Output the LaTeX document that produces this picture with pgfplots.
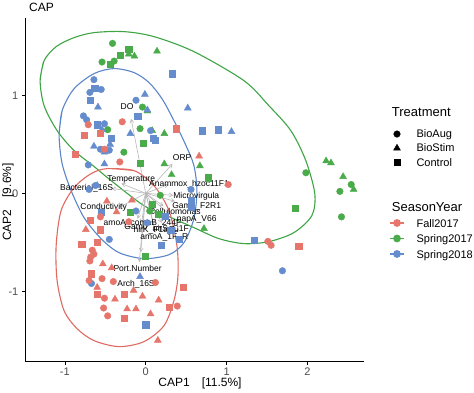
\documentclass[border=0pt]{standalone}
\usepackage{fontspec}
\setmainfont{Liberation Sans}
\usepackage{pgfplots}
\pgfplotsset{compat=1.18}
\usetikzlibrary{arrows.meta}
\definecolor{redpt}{HTML}{E6766C}
\definecolor{greenpt}{HTML}{4AAB4A}
\definecolor{bluept}{HTML}{658CCD}
\definecolor{redel}{HTML}{E06A60}
\definecolor{greenel}{HTML}{3EA444}
\definecolor{blueel}{HTML}{5B86C8}
\definecolor{tickgray}{HTML}{4D4D4D}
\newcommand\lsa{\rule[-3.5pt]{0pt}{12.2pt}}
\newcommand\lsb{\rule[-3.5pt]{0pt}{13.5pt}}
\begin{document}
\begin{tikzpicture}[x=1pt,y=1pt]
\useasboundingbox (0,0) rectangle (474,392);
\begin{axis}[
  scale only axis, width=339.3pt, height=344pt,
  at={(30.7,31)}, anchor=south west,
  xmin=-1.494, xmax=2.70, ymin=-1.717, ymax=1.793,
  axis lines*=left,
  axis line style={black, line width=0.6pt},
  xtick={-1,0,1,2}, ytick={-1,0,1},
  tick align=outside, major tick length=3pt,
  tick style={black, line width=0.5pt},
  ticklabel style={font=\fontsize{11}{13}\selectfont, text=tickgray},
  /pgf/number format/assume math mode=true,
  legend style={at={(1.074,0.677)}, anchor=north west, draw=none, fill=none,
    inner sep=0pt, row sep=4pt, column sep=12pt, font=\fontsize{11}{13}\selectfont,
    nodes={inner sep=0pt}},
  legend cell align=left,
  legend image code/.code={\draw[mark repeat=2, mark phase=2, #1] plot coordinates {(0pt,0pt) (7pt,0pt) (14pt,0pt)};},
]
% ---- Spring2017 (green)
\addplot[forget plot, only marks, mark=*, mark size=3.3pt, color=greenpt] coordinates {
(-0.41,1.53) (-0.54,1.34) (-0.39,1.35) (-0.04,0.88) (-0.07,0.66) (-0.27,0.42) (-0.47,0.65)
(1.98,0.21) (2.54,0.09) (2.40,0.02) (2.42,-0.24) (0.18,-0.02) (0.05,-0.18)};
\addplot[forget plot, only marks, mark=triangle*, mark size=4pt, color=greenpt] coordinates {
(-0.21,1.42) (-0.14,1.40) (0.14,1.45) (0.02,0.84) (0.08,0.64) (0.23,0.61) (0.23,0.30)
(0.32,0.19) (0.67,0.28) (0.72,-0.36) (2.23,0.33) (2.29,0.31) (2.44,0.17) (2.57,0.04)};
\addplot[forget plot, only marks, mark=square*, mark size=3.1pt, color=greenpt] coordinates {
(-0.44,1.32) (-0.32,1.41) (-0.21,1.47) (-0.03,0.51) (-0.07,0.31) (0.77,0.16) (1.85,-0.15)
(-0.19,-0.19) (-0.01,-0.64) (0.08,-0.11) (0.16,-0.21)};
% ---- Spring2018 (blue)
\addplot[forget plot, only marks, mark=*, mark size=3.3pt, color=bluept] coordinates {
(-0.64,1.16) (-0.69,1.03) (-0.55,1.06) (-0.12,0.95) (-0.77,0.79) (-0.73,0.75) (-0.51,0.71)
(-0.56,0.45) (0.06,0.64) (-0.71,0.29) (-0.62,0.08) (-0.70,0.04) (-0.45,-0.47) (-0.67,-0.92)
(1.69,-0.79) (0.56,0.04) (-0.12,-0.18) (0.02,-0.30) (-0.45,0.44)};
\addplot[forget plot, only marks, mark=triangle*, mark size=4pt, color=bluept] coordinates {
(-0.59,0.88) (-0.01,1.01) (-0.54,0.65) (-0.64,0.48) (-0.44,0.50) (-0.19,0.61) (-0.51,0.30)
(0.02,0.85) (0.52,0.87) (1.06,0.63) (-0.60,0.08) (-0.07,-0.85) (-0.51,0.42)};
\addplot[forget plot, only marks, mark=square*, mark size=3.1pt, color=bluept] coordinates {
(-0.63,1.07) (-0.69,0.95) (-0.60,0.70) (-0.10,0.79) (-0.43,0.56) (0.09,0.56) (0.12,0.54)
(0.33,1.22) (0.70,0.64) (0.90,0.65) (-0.55,-0.19) (0.00,-1.34) (0.19,-0.53) (0.41,-0.47)
(0.56,-0.07) (1.34,-0.48) (0.24,-0.23) (0.31,-0.38) (0.56,-0.14)};
% ---- Fall2017 (red)
\addplot[forget plot, only marks, mark=*, mark size=3.3pt, color=redpt] coordinates {
(-0.29,0.73) (-0.71,0.70) (-0.51,0.45) (-0.32,0.32) (-0.56,-0.24) (-0.66,-0.58) (-0.64,-0.62)
(-0.68,-0.65) (-0.69,-0.69) (-0.54,-0.87) (-0.40,-0.90) (-0.70,-0.89) (-0.51,-1.07) (-0.52,-1.17)
(-0.47,-1.25) (0.12,-0.91) (0.39,-1.15) (1.02,0.09) (1.51,-0.49) (1.55,-0.53) (-0.21,-0.29)};
\addplot[forget plot, only marks, mark=triangle*, mark size=4pt, color=redpt] coordinates {
(-0.48,-0.08) (-0.17,-0.07) (-0.36,-0.19) (-0.74,-0.37) (-0.53,-0.72) (-0.42,-0.76) (-0.60,-0.96)
(-0.38,-1.08) (-0.15,-0.99) (-0.04,-1.05) (-0.23,-1.18) (-0.12,-1.18) (0.06,-1.23) (0.16,-1.09)
(0.15,-1.50) (0.66,0.38)};
\addplot[forget plot, only marks, mark=square*, mark size=3.1pt, color=redpt] coordinates {
(-0.76,0.59) (-0.56,0.61) (-0.87,0.40) (-0.69,-0.27) (-0.56,-0.37) (-0.79,-0.52) (-0.60,-0.50)
(-0.67,-0.82) (-0.60,-1.03) (-0.27,-1.03) (-0.27,-1.27) (0.29,-1.16) (0.46,-0.96) (0.38,0.66)
(1.89,-0.54)};
% ---- ellipses
\addplot[forget plot, smooth, no marks, color=greenel, line width=1.1pt] coordinates {
(-1.305,1.150) (-1.256,1.354) (-1.107,1.497) (-0.885,1.589) (-0.638,1.640) (-0.268,1.650)
(0.102,1.599) (0.596,1.446) (1.214,1.150) (1.522,0.895) (1.794,0.640) (1.979,0.334)
(2.090,-0.003) (2.053,-0.228) (1.831,-0.401) (1.522,-0.493) (1.214,-0.513) (0.905,-0.462)
(0.596,-0.350) (0.288,-0.238) (-0.021,-0.126) (-0.428,0.130) (-0.638,0.274) (-0.885,0.436)
(-1.095,0.640) (-1.256,0.895) (-1.305,1.150) (-1.256,1.354)};
\addplot[forget plot, smooth, no marks, color=blueel, line width=1.1pt] coordinates {
(-1.070,0.589) (-1.033,0.844) (-0.885,1.068) (-0.638,1.222) (-0.391,1.273) (-0.144,1.232)
(0.041,1.130) (0.201,0.966) (0.349,0.742) (0.498,0.487) (0.596,0.283) (0.633,0.028)
(0.596,-0.258) (0.473,-0.503) (0.288,-0.626) (-0.021,-0.666) (-0.330,-0.605) (-0.552,-0.462)
(-0.762,-0.248) (-0.922,0.028) (-1.033,0.303) (-1.070,0.589) (-1.033,0.844)};
\addplot[forget plot, smooth, no marks, color=redel, line width=1.1pt] coordinates {
(-0.478,0.252) (-0.144,0.232) (0.102,0.079) (0.288,-0.177) (0.386,-0.534) (0.399,-0.840)
(0.349,-1.095) (0.226,-1.350) (-0.021,-1.513) (-0.330,-1.564) (-0.638,-1.503) (-0.848,-1.381)
(-1.009,-1.197) (-1.095,-0.891) (-1.107,-0.534) (-1.046,-0.177) (-0.885,0.058) (-0.675,0.201)
(-0.478,0.252) (-0.144,0.232)};
% ---- biplot arrows
\addplot[forget plot, color=black!28, line width=0.6pt, -{Straight Barb[length=3.5pt,width=4pt]},
  quiver={u=\thisrow{u}, v=\thisrow{v}}] table {
x y u v
0 0 -0.18 0.76
0 0 0.33 0.30
0 0 -0.30 0.10
0 0 -0.42 0.05
0 0 -0.32 -0.14
0 0 0.28 0.09
0 0 0.34 -0.02
0 0 0.36 -0.08
0 0 0.22 -0.13
0 0 0.30 -0.22
0 0 0.10 -0.32
0 0 0.20 -0.30
0 0 0.12 -0.40
0 0 -0.10 -0.26
0 0 -0.05 -0.30
0 0 -0.06 -0.60
0 0 -0.08 -0.70
};
\begin{scope}[every node/.style={font=\fontsize{8.5}{9}\selectfont, inner sep=0pt}]
\node at (axis cs:-0.23,0.89) {DO};
\node at (axis cs:0.45,0.36) {ORP};
\node at (axis cs:-0.18,0.14) {Temperature};
\node at (axis cs:-0.73,0.055) {Bacterial\_16S};
\node at (axis cs:-0.52,-0.14) {Conductivity};
\node at (axis cs:0.535,0.096) {Anammox\_hzoc11F1};
\node at (axis cs:0.625,-0.03) {Microvirgula};
\node at (axis cs:0.63,-0.135) {Gamo\_F2R1};
\node at (axis cs:0.36,-0.18) {Cellulomonas};
\node at (axis cs:0.63,-0.27) {napA\_V66};
\node at (axis cs:-0.04,-0.31) {amoA\_comaB\_244F};
\node at (axis cs:-0.12,-0.335) {Gamo};
\node at (axis cs:0.13,-0.38) {nirK\_F1aCu};
\node at (axis cs:0.31,-0.37) {nirS\_C1F};
\node at (axis cs:0.23,-0.45) {amoA\_1F\_R};
\node at (axis cs:-0.10,-0.765) {Port.Number};
\node at (axis cs:-0.12,-0.925) {Arch\_16S};
\end{scope}
% ---- legend (Treatment, then SeasonYear after a spacer row)
\addlegendimage{only marks, mark=*, mark size=3.3pt, black}
\addlegendentry{\lsa BioAug}
\addlegendimage{only marks, mark=triangle*, mark size=4pt, black}
\addlegendentry{\lsa BioStim}
\addlegendimage{only marks, mark=square*, mark size=3.1pt, black}
\addlegendentry{\lsa Control}
\addlegendimage{empty legend}
\addlegendentry{\rule{0pt}{40.2pt}}
\addlegendimage{color=redpt, line width=1.1pt, mark=*, mark size=3.3pt}
\addlegendentry{\lsb Fall2017}
\addlegendimage{color=greenpt, line width=1.1pt, mark=*, mark size=3.3pt}
\addlegendentry{\lsb Spring2017}
\addlegendimage{color=bluept, line width=1.1pt, mark=*, mark size=3.3pt}
\addlegendentry{\lsb Spring2018}
\end{axis}
% ---- titles and labels
\node[anchor=west, font=\fontsize{12}{14}\selectfont, inner sep=0pt] at (29,385) {CAP};
\node[font=\fontsize{12}{14}\selectfont, inner sep=0pt] at (200,9) {CAP1\quad[11.5\%]};
\node[rotate=90, font=\fontsize{12}{14}\selectfont, inner sep=0pt] at (8,190) {CAP2\quad[9.6\%]};
\node[anchor=west, font=\fontsize{13}{15}\selectfont, inner sep=0pt] at (391.7,280.3) {Treatment};
\node[anchor=west, font=\fontsize{13}{15}\selectfont, inner sep=0pt] at (391.7,185.3) {SeasonYear};
\end{tikzpicture}
\end{document}
